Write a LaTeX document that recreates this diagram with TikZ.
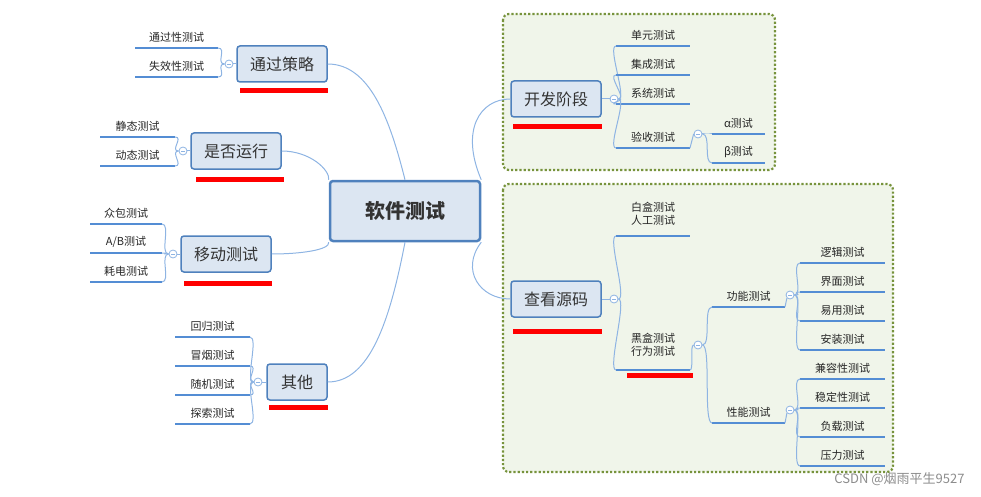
\documentclass[tikz,border=0pt]{standalone}
\usepackage{fontspec}
\setmainfont{Noto Sans CJK SC}
\begin{document}
\begin{tikzpicture}[x=1pt,y=-1pt,
  conn/.style={draw=blue!30!cyan!40!gray!60,line width=1pt,color={rgb,255:red,142;green,180;blue,227}},
  leafline/.style={line width=2pt,color={rgb,255:red,84;green,141;blue,212}},
  leaftext/.style={font=\fontsize{11}{13}\selectfont,text=black!85,align=center,inner sep=0pt},
  mainbox/.style={draw={rgb,255:red,79;green,129;blue,189},line width=1.5pt,fill={rgb,255:red,220;green,230;blue,242},rounded corners=3pt,minimum width=90pt,minimum height=36pt,font=\fontsize{16}{18}\selectfont,text=black!80},
  redbar/.style={fill=red,draw=none},
  grp/.style={draw={rgb,255:red,119;green,147;blue,60},dotted,line width=2.2pt,fill={rgb,255:red,240;green,245;blue,234},rounded corners=6pt},
  cc/.style={circle,draw={rgb,255:red,142;green,180;blue,227},fill=white,minimum size=8pt,inner sep=0pt,line width=0.8pt}]
\useasboundingbox (0,0) rectangle (981,497);
\newcommand\lf[5]{\coordinate (#1a) at (#2,#4); \coordinate (#1b) at (#3,#4);
 \draw[leafline] (#1a) -- (#1b);
 \node[leaftext] (#1t) at ({(#2+#3)/2},#4-11) {#5};}
\newcommand\rc[2]{\draw[conn] (#1.east) .. controls +(9,0) and +(-9,0) .. (#2a);}
\newcommand\lc[2]{\draw[conn] (#1.west) .. controls +(-9,0) and +(9,0) .. (#2b);}
% groups
\draw[grp] (503,14) rectangle (775,170);
\draw[grp] (503,184) rectangle (893,472);
% central
\node[mainbox,minimum width=150pt,minimum height=60pt,line width=2.5pt,font=\fontsize{20}{22}\selectfont\bfseries] (c) at (405,211) {软件测试};
% main boxes
\node[mainbox] (tg) at (282,64) {通过策略};
\node[mainbox] (sf) at (236,151) {是否运行};
\node[mainbox] (yd) at (226,254) {移动测试};
\node[mainbox,minimum width=60pt] (qt) at (297,382) {其他};
\node[mainbox] (kf) at (556,99) {开发阶段};
\node[mainbox] (ck) at (556,299) {查看源码};
\foreach \a/\b/\yy in {240/328/88,196/284/177,184/272/281,269/328/405,513/602/124,513/602/329,627/693/373}
  \fill[redbar] (\a,\yy) rectangle (\b,\yy+5);
% central connectors
\draw[conn] (c.north) .. controls (390,120) and (370,64) .. (tg.east);
\draw[conn] (c.north west) .. controls (330,170) and (310,151) .. (sf.east);
\draw[conn] (c.south west) .. controls (330,250) and (300,254) .. (yd.east);
\draw[conn] (c.south) .. controls (390,320) and (370,382) .. (qt.east);
\draw[conn] (c.north east) .. controls (460,130) and (480,99) .. (kf.west);
\draw[conn] (c.south east) .. controls (460,270) and (480,299) .. (ck.west);
% circles
\node[cc] (k1) at (614,99) {};
\node[cc] (k2) at (698,134) {};
\node[cc] (s1) at (614,299) {};
\node[cc] (s2) at (698,345) {};
\node[cc] (s3) at (790,295) {};
\node[cc] (s4) at (790,410) {};
\node[cc] (l1) at (229,64) {};
\node[cc] (l2) at (183,151) {};
\node[cc] (l3) at (173,254) {};
\node[cc] (l4) at (258,382) {};
\foreach \n in {k1,k2,s1,s2,s3,s4,l1,l2,l3,l4} \draw[conn,line width=0.6pt] ([xshift=-2pt]\n.center) -- ([xshift=2pt]\n.center);
\draw[conn] (kf.east) -- (k1.west); \draw[conn] (ck.east) -- (s1.west);
\draw[conn] (tg.west) -- (l1.east); \draw[conn] (sf.west) -- (l2.east);
\draw[conn] (yd.west) -- (l3.east); \draw[conn] (qt.west) -- (l4.east);
% dev leaves
\lf{d1}{616}{690}{46}{单元测试} \rc{k1}{d1}
\lf{d2}{616}{690}{75}{集成测试} \rc{k1}{d2}
\lf{d3}{616}{690}{104}{系统测试} \rc{k1}{d3}
\lf{d4}{616}{690}{148}{验收测试} \rc{k1}{d4}
\draw[conn] (d4b) -- (k2.west);
\lf{d5}{712}{765}{134}{α测试} \rc{k2}{d5}
\lf{d6}{712}{765}{163}{β测试} \rc{k2}{d6}
% source leaves
\coordinate (w1a) at (616,236); \coordinate (w1b) at (690,236);
\draw[leafline] (w1a) -- (w1b);
\node[leaftext] (w1t) at (653,214) {白盒测试\\人工测试}; \rc{s1}{w1}
\coordinate (w2a) at (616,370); \coordinate (w2b) at (690,370);
\draw[leafline] (w2a) -- (w2b);
\node[leaftext] (w2t) at (653,345) {黑盒测试\\行为测试}; \rc{s1}{w2}
\draw[conn] (w2b) .. controls +(4,0) and +(-4,0) .. (s2.west);
\lf{f1}{712}{785}{307}{功能测试} \rc{s2}{f1}
\lf{f2}{712}{785}{423}{性能测试} \rc{s2}{f2}
\draw[conn] (f1b) -- (s3.south west); \draw[conn] (f2b) -- (s4.south west);
\lf{g1}{800}{885}{263}{逻辑测试} \rc{s3}{g1}
\lf{g2}{800}{885}{292}{界面测试} \rc{s3}{g2}
\lf{g3}{800}{885}{321}{易用测试} \rc{s3}{g3}
\lf{g4}{800}{885}{350}{安装测试} \rc{s3}{g4}
\lf{g5}{800}{885}{379}{兼容性测试} \rc{s4}{g5}
\lf{g6}{800}{885}{408}{稳定性测试} \rc{s4}{g6}
\lf{g7}{800}{885}{437}{负载测试} \rc{s4}{g7}
\lf{g8}{800}{885}{466}{压力测试} \rc{s4}{g8}
% left leaves
\lf{a1}{135}{218}{48}{通过性测试} \lc{l1}{a1}
\lf{a2}{135}{218}{77}{失效性测试} \lc{l1}{a2}
\lf{b1}{100}{175}{137}{静态测试} \lc{l2}{b1}
\lf{b2}{100}{175}{166}{动态测试} \lc{l2}{b2}
\lf{m1}{90}{162}{224}{众包测试} \lc{l3}{m1}
\lf{m2}{90}{162}{253}{A/B测试} \lc{l3}{m2}
\lf{m3}{90}{162}{282}{耗电测试} \lc{l3}{m3}
\lf{o1}{175}{250}{337}{回归测试} \lc{l4}{o1}
\lf{o2}{175}{250}{366}{冒烟测试} \lc{l4}{o2}
\lf{o3}{175}{250}{395}{随机测试} \lc{l4}{o3}
\lf{o4}{175}{250}{424}{探索测试} \lc{l4}{o4}
\node[font=\fontsize{13}{15}\selectfont,text=black!45,anchor=east] (wm) at (968,479) {CSDN @烟雨平生9527};
\end{tikzpicture}
\end{document}
